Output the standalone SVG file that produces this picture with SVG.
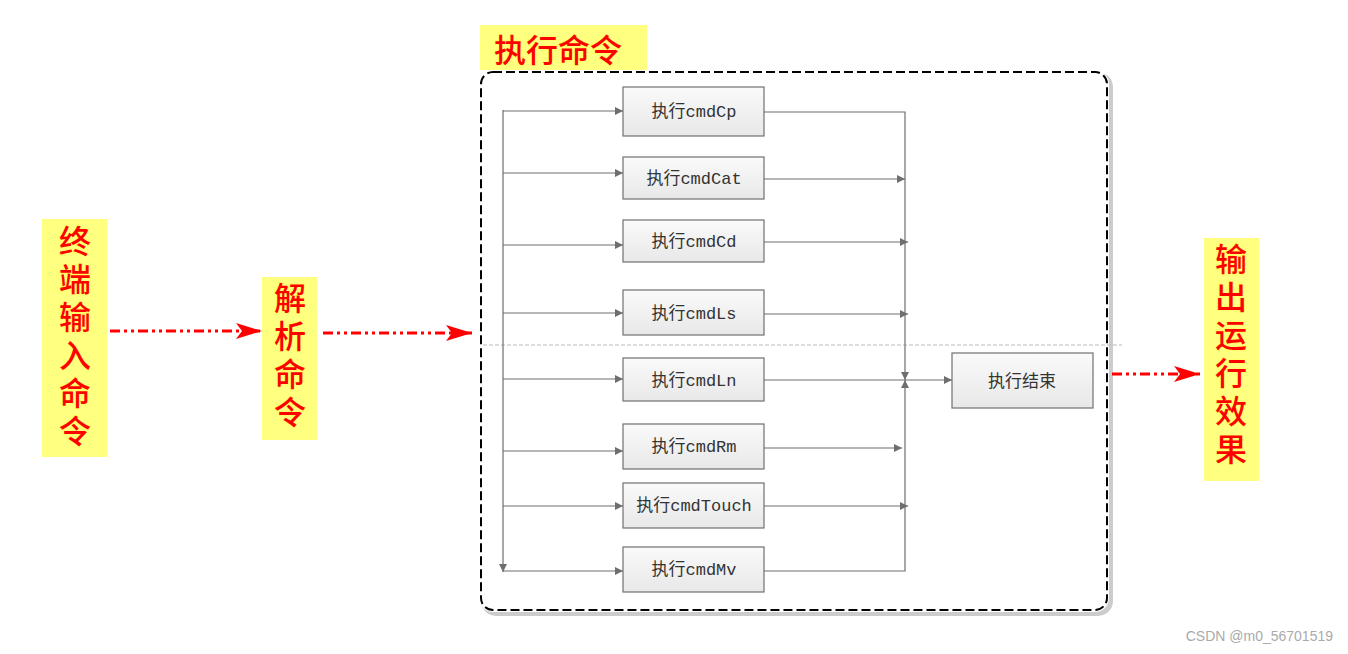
<svg xmlns="http://www.w3.org/2000/svg" width="1348" height="654" viewBox="0 0 1348 654">
<style>
.box{fill:url(#g);stroke:#707070;stroke-width:1.2}
.bt{font-family:"Liberation Mono","Noto Sans CJK SC",monospace;font-size:17px;fill:#333;text-anchor:middle}
.ln{stroke:#6e6e6e;stroke-width:1.2;fill:none}
.yl{fill:#ffff80}
.rt{font-family:"Noto Sans CJK SC",sans-serif;font-weight:500;fill:#f00;stroke:#ffff60;stroke-width:1.5;paint-order:stroke;font-size:32px}
.vt{writing-mode:vertical-rl;letter-spacing:6px}
.ra{stroke:#f00;stroke-width:3;stroke-dasharray:10,4,3,4,3,4;fill:none}
</style>
<defs>
<linearGradient id="g" x1="0" y1="0" x2="0" y2="1"><stop offset="0" stop-color="#fafafa"/><stop offset="1" stop-color="#e8e8e8"/></linearGradient>
<marker id="a" markerWidth="8" markerHeight="8" refX="8" refY="4" orient="auto" markerUnits="userSpaceOnUse"><path d="M0,0L8,4L0,8z" fill="#6e6e6e"/></marker>
<marker id="r" markerWidth="26" markerHeight="16" refX="26" refY="8" orient="auto" markerUnits="userSpaceOnUse"><path d="M0,0L26,8L0,16L6,8z" fill="#f00"/></marker>
</defs>
<rect width="1348" height="654" fill="#fff"/>
<g id="container">
<rect x="481" y="72" width="626" height="538" rx="12" fill="none" stroke="#ccc" stroke-width="6" transform="translate(3,3)"/>
<rect x="481" y="72" width="626" height="538" rx="12" fill="#fff" stroke="#fff" stroke-width="4"/>
<rect x="481" y="72" width="626" height="538" rx="12" fill="none" stroke="#000" stroke-width="2" stroke-dasharray="9,4"/>
</g>
<line x1="483" y1="345" x2="1122" y2="345" stroke="#bbb" stroke-dasharray="4,2"/>
<g id="title"><rect class="yl" x="480" y="25" width="167" height="45"/><text class="rt" x="558" y="62" text-anchor="middle">执行命令</text></g>
<g id="n-input"><rect class="yl" x="42" y="219" width="65" height="238"/><text class="rt vt" x="75" y="225">终端输入命令</text></g>
<g id="n-parse"><rect class="yl" x="262" y="277" width="55" height="163"/><text class="rt vt" x="290" y="282">解析命令</text></g>
<g id="n-output"><rect class="yl" x="1204" y="238" width="55" height="243"/><text class="rt vt" x="1231" y="243">输出运行效果</text></g>
<g id="n-cp"><rect class="box" x="623" y="87" width="141" height="49"/><text class="bt" x="694" y="117">执行cmdCp</text></g>
<g id="n-cat"><rect class="box" x="623" y="157" width="141" height="42"/><text class="bt" x="694" y="184">执行cmdCat</text></g>
<g id="n-cd"><rect class="box" x="623" y="220" width="141" height="42"/><text class="bt" x="694" y="247">执行cmdCd</text></g>
<g id="n-ls"><rect class="box" x="623" y="290" width="141" height="45"/><text class="bt" x="694" y="319">执行cmdLs</text></g>
<g id="n-ln"><rect class="box" x="623" y="358" width="141" height="43"/><text class="bt" x="694" y="386">执行cmdLn</text></g>
<g id="n-rm"><rect class="box" x="623" y="424" width="141" height="45"/><text class="bt" x="694" y="452">执行cmdRm</text></g>
<g id="n-touch"><rect class="box" x="623" y="483" width="141" height="45"/><text class="bt" x="694" y="511">执行cmdTouch</text></g>
<g id="n-mv"><rect class="box" x="623" y="547" width="141" height="45"/><text class="bt" x="694" y="575">执行cmdMv</text></g>
<g id="n-end"><rect class="box" x="952" y="353" width="141" height="55"/><text class="bt" x="1022" y="387">执行结束</text></g>
<g id="connectors">
<path class="ln" d="M503,110V572" marker-end="url(#a)"/>
<path class="ln" d="M503,111H623" marker-end="url(#a)"/>
<path class="ln" d="M503,173H623" marker-end="url(#a)"/>
<path class="ln" d="M503,245H623" marker-end="url(#a)"/>
<path class="ln" d="M503,313H623" marker-end="url(#a)"/>
<path class="ln" d="M503,379H623" marker-end="url(#a)"/>
<path class="ln" d="M503,451H623" marker-end="url(#a)"/>
<path class="ln" d="M503,506H623" marker-end="url(#a)"/>
<path class="ln" d="M503,571H623" marker-end="url(#a)"/>
<path class="ln" d="M764,112H905V380" marker-end="url(#a)"/>
<path class="ln" d="M764,571H905V380" marker-end="url(#a)"/>
<path class="ln" d="M764,179H905" marker-end="url(#a)"/>
<path class="ln" d="M764,242H908" marker-end="url(#a)"/>
<path class="ln" d="M764,314H908" marker-end="url(#a)"/>
<path class="ln" d="M764,380H952" marker-end="url(#a)"/>
<path class="ln" d="M764,448H902" marker-end="url(#a)"/>
<path class="ln" d="M764,506H908" marker-end="url(#a)"/>
<path class="ra" d="M110,331H262" marker-end="url(#r)"/>
<path class="ra" d="M323,333H472" marker-end="url(#r)"/>
<path class="ra" d="M1112,374H1200" marker-end="url(#r)"/>
</g>
<text x="1333" y="641" font-family="Liberation Sans,sans-serif" font-size="14" fill="#aaa" text-anchor="end">CSDN @m0_56701519</text>
</svg>
